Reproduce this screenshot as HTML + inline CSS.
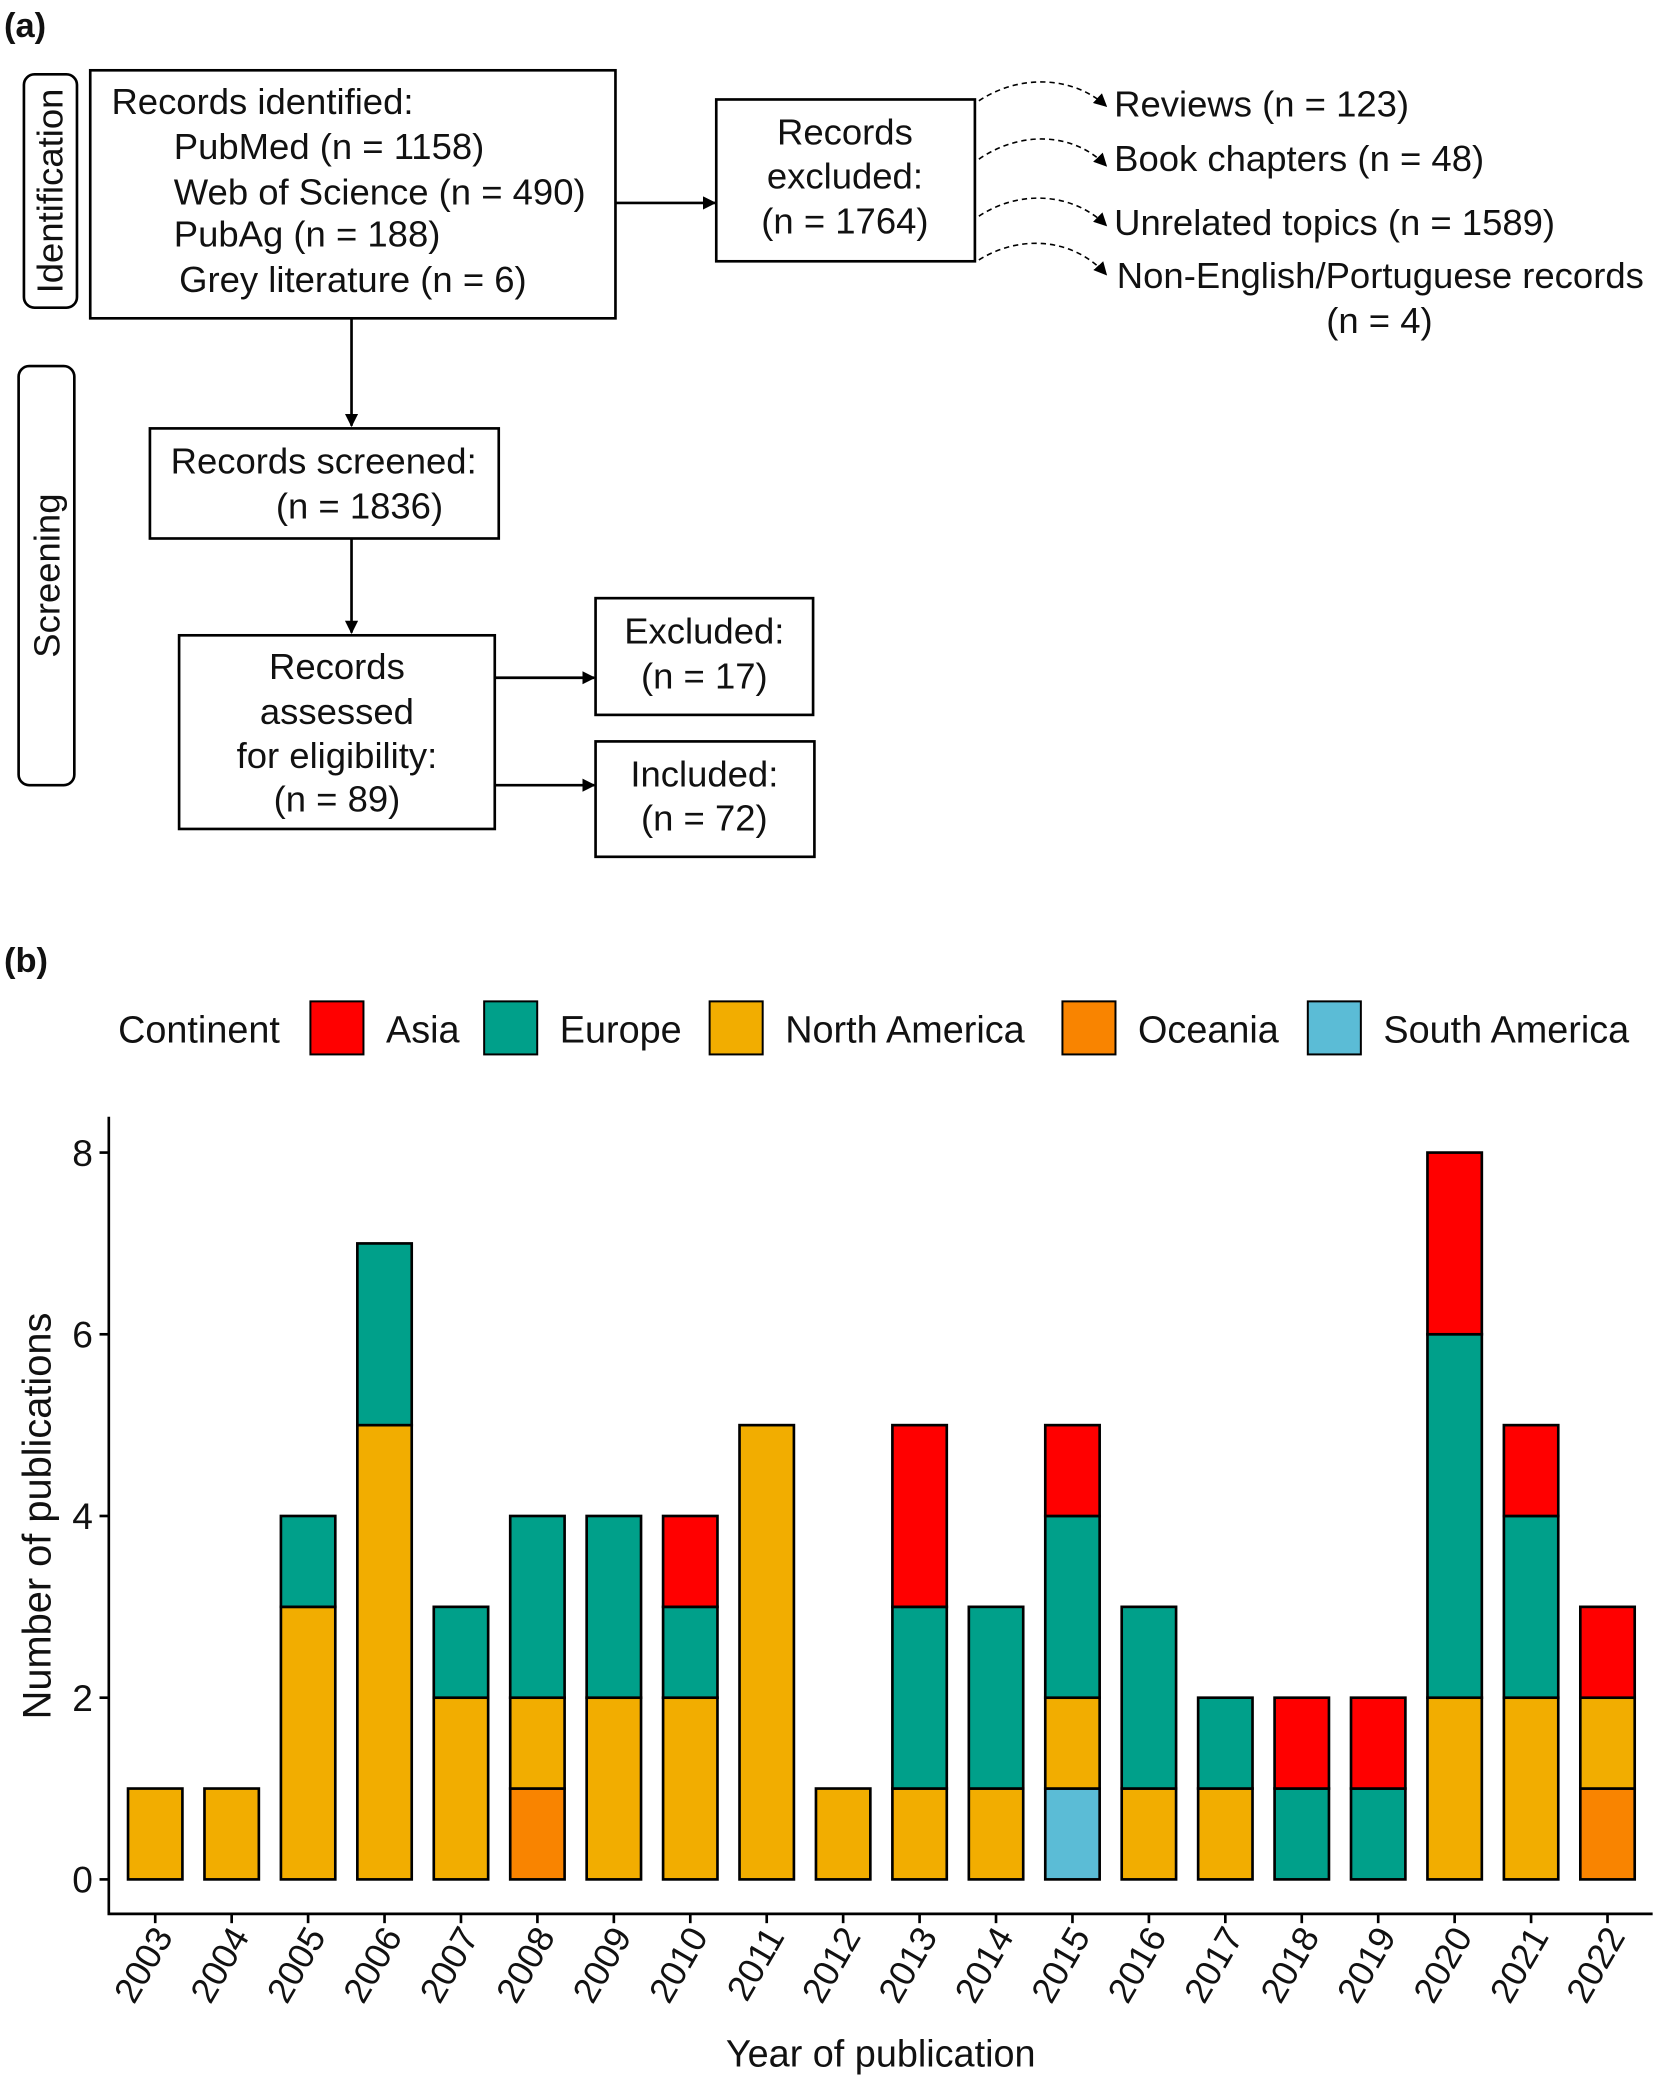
<!DOCTYPE html>
<html><head><meta charset="utf-8"><style>
html,body{margin:0;padding:0;background:#fff;}
svg{display:block;}
text{font-family:"Liberation Sans",Arial,sans-serif;fill:#111;}
</style></head><body>
<svg id="root" width="1658" height="2081" viewBox="0 0 1250 1569" xmlns="http://www.w3.org/2000/svg">
<defs>
<marker id="ah" markerWidth="10" markerHeight="10" refX="9" refY="5" orient="auto" markerUnits="userSpaceOnUse"><path d="M0,0 L10,5 L0,10 z" fill="#000"/></marker>
</defs>
<g font-size="27.5" stroke-width="2">
<text x="3" y="28" font-weight="bold" font-size="26">(a)</text>
<rect x="18" y="56" width="40" height="176" rx="8" fill="none" stroke="#000"/>
<text transform="translate(47,144) rotate(-90)" text-anchor="middle">Identification</text>
<rect x="14" y="276" width="42" height="316" rx="8" fill="none" stroke="#000"/>
<text transform="translate(45,434) rotate(-90)" text-anchor="middle">Screening</text>

<rect x="68" y="53" width="396" height="187" fill="none" stroke="#000"/>
<text x="84" y="86">Records identified:</text>
<text x="131" y="120">PubMed (n = 1158)</text>
<text x="131" y="154">Web of Science (n = 490)</text>
<text x="131" y="186">PubAg (n = 188)</text>
<text x="135" y="220">Grey literature (n = 6)</text>
<line x1="464" y1="153" x2="539" y2="153" stroke="#000" marker-end="url(#ah)"/>

<rect x="540" y="75" width="195" height="122" fill="none" stroke="#000"/>
<text x="637" y="109" text-anchor="middle">Records</text>
<text x="637" y="142" text-anchor="middle">excluded:</text>
<text x="637" y="176" text-anchor="middle">(n = 1764)</text>
<g fill="none" stroke="#000" stroke-width="1.2" stroke-dasharray="4,3">
<path d="M738,76 C770,55 810,58 834,80" marker-end="url(#ah)"/>
<path d="M738,120 C770,98 810,100 834,125" marker-end="url(#ah)"/>
<path d="M738,163 C770,142 810,146 834,170" marker-end="url(#ah)"/>
<path d="M738,196 C770,176 810,180 834,207" marker-end="url(#ah)"/>
</g>
<text x="840" y="88">Reviews (n = 123)</text>
<text x="840" y="129">Book chapters (n = 48)</text>
<text x="840" y="177">Unrelated topics (n = 1589)</text>
<text x="842" y="217">Non-English/Portuguese records</text>
<text x="1040" y="251" text-anchor="middle">(n = 4)</text>

<line x1="265" y1="240" x2="265" y2="321" stroke="#000" marker-end="url(#ah)"/>
<rect x="113" y="323" width="263" height="83" fill="none" stroke="#000"/>
<text x="244" y="357" text-anchor="middle">Records screened:</text>
<text x="271" y="391" text-anchor="middle">(n = 1836)</text>
<line x1="265" y1="406" x2="265" y2="477" stroke="#000" marker-end="url(#ah)"/>
<rect x="135" y="479" width="238" height="146" fill="none" stroke="#000"/>
<text x="254" y="512" text-anchor="middle">Records</text>
<text x="254" y="546" text-anchor="middle">assessed</text>
<text x="254" y="579" text-anchor="middle">for eligibility:</text>
<text x="254" y="612" text-anchor="middle">(n = 89)</text>
<line x1="373" y1="511" x2="448" y2="511" stroke="#000" marker-end="url(#ah)"/>
<line x1="373" y1="592" x2="448" y2="592" stroke="#000" marker-end="url(#ah)"/>
<rect x="449" y="451" width="164" height="88" fill="none" stroke="#000"/>
<text x="531" y="485" text-anchor="middle">Excluded:</text>
<text x="531" y="519" text-anchor="middle">(n = 17)</text>
<rect x="449" y="559" width="165" height="87" fill="none" stroke="#000"/>
<text x="531" y="593" text-anchor="middle">Included:</text>
<text x="531" y="626" text-anchor="middle">(n = 72)</text>
</g>

<g font-size="28.5">
<text x="3" y="733" font-weight="bold" font-size="26">(b)</text>
<g id="legend"><text x="89" y="786">Continent</text></g>
<g id="bars"></g>
<g id="axes"></g>
<text transform="translate(38,1143) rotate(-90)" text-anchor="middle" font-size="30">Number of publications</text>
<text x="664" y="1558" text-anchor="middle">Year of publication</text>
</g>
</svg>
<script>
const years = ["2003","2004","2005","2006","2007","2008","2009","2010","2011","2012","2013","2014","2015","2016","2017","2018","2019","2020","2021","2022"];
const oceania = [0,0,0,0,0,1,0,0,0,0,0,0,0,0,0,0,0,0,0,1];
const southAmerica = [0,0,0,0,0,0,0,0,0,0,0,0,1,0,0,0,0,0,0,0];
const northAmerica = [1,1,3,5,2,1,2,2,5,1,1,1,1,1,1,0,0,2,2,1];
const europe = [0,0,1,2,1,2,2,1,0,0,2,2,2,2,1,1,1,4,2,0];
const asia = [0,0,0,0,0,0,0,1,0,0,2,0,1,0,0,1,1,2,1,1];
const yTicks = [0,2,4,6,8];
const legendNames = ["Asia","Europe","North America","Oceania","South America"];

const NS="http://www.w3.org/2000/svg";
const y0=1417, yUnit=68.5, x0=117, xStep=57.63, bw=41;
const ys=v=>y0-v*yUnit, xs=i=>x0+i*xStep;
const colors={"Asia":"#FF0000","Europe":"#00A08A","North America":"#F2AD00","Oceania":"#F98400","South America":"#5BBCD6"};
const series=[["Oceania",oceania],["South America",southAmerica],["North America",northAmerica],["Europe",europe],["Asia",asia]];
function mk(tag,attrs,parent){const e=document.createElementNS(NS,tag);for(const k in attrs)e.setAttribute(k,attrs[k]);parent.appendChild(e);return e;}
const bars=document.getElementById('bars');
years.forEach((yr,i)=>{
  let cum=0;
  series.forEach(([name,vals])=>{
    const v=vals[i]; if(!v) return;
    const r=mk('rect',{x:xs(i)-bw/2,y:ys(cum+v),width:bw,height:v*yUnit,fill:colors[name],stroke:"#000","stroke-width":2},bars);
    
    
    cum+=v;
  });
});
const ax=document.getElementById('axes');
const yl=mk('line',{x1:82,y1:842,x2:82,y2:1443,stroke:"#000","stroke-width":2},ax);


const xl=mk('line',{x1:81,y1:1443,x2:1246,y2:1443,stroke:"#000","stroke-width":2},ax);


yTicks.forEach(t=>{
  mk('line',{x1:75,y1:ys(t),x2:82,y2:ys(t),stroke:"#000","stroke-width":2},ax);
  const tx=mk('text',{x:70,y:ys(t)+10,"text-anchor":"end","font-size":28},ax);
  tx.textContent=t;
  
  
});
years.forEach((yr,i)=>{
  mk('line',{x1:xs(i),y1:1443,x2:xs(i),y2:1450,stroke:"#000","stroke-width":2},ax);
  const tx=mk('text',{"text-anchor":"end","font-size":27,transform:`translate(${xs(i)+14},${1460}) rotate(-60)`},ax);
  tx.textContent=yr;
  
  
});
const lg=document.getElementById('legend');
const keyX=[234,365,535,801,986];
legendNames.forEach((n,i)=>{
  const r=mk('rect',{x:keyX[i],y:755,width:40,height:40,fill:colors[n],stroke:"#000","stroke-width":1.5},lg);
  
  
  const t=mk('text',{x:keyX[i]+57,y:786,"font-size":28.5},lg);
  t.textContent=n;
  
  
});
</script>
</body></html>
